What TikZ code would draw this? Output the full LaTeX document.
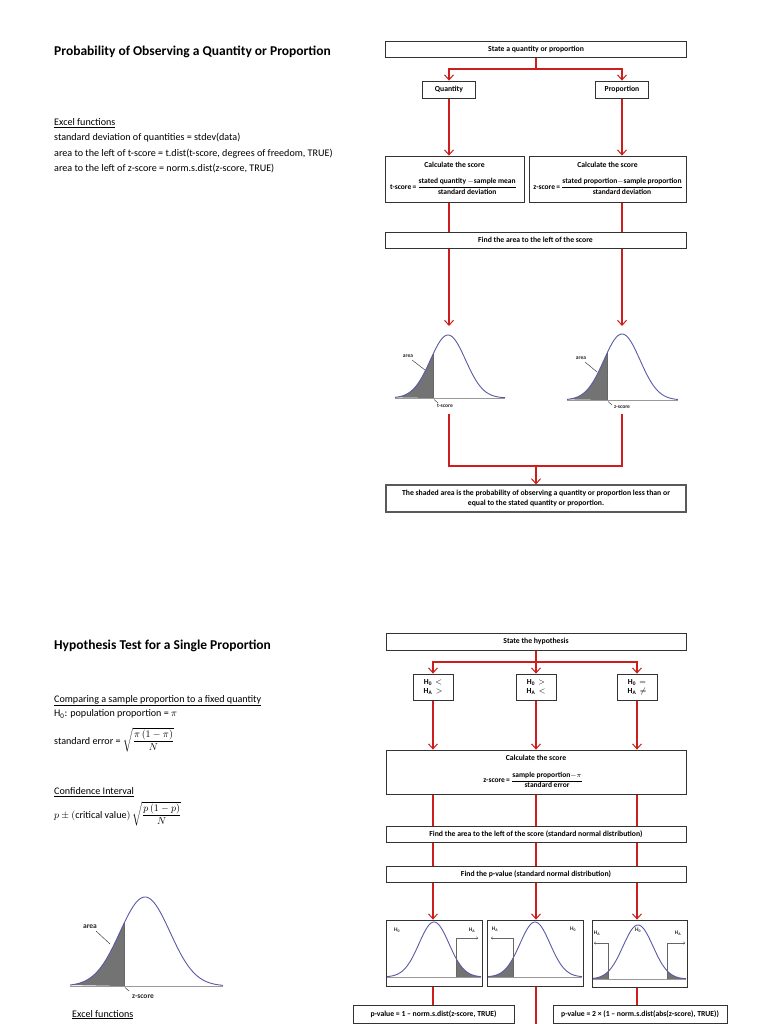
\documentclass[tikz,border=0pt]{standalone}
\usepackage{fontspec}
\usepackage{amsmath}
\setmainfont{Carlito}
\usetikzlibrary{arrows.meta,backgrounds,calc}
\definecolor{lred}{RGB}{205,30,30}
\definecolor{cblue}{RGB}{90,90,165}
\definecolor{shd}{RGB}{115,115,115}
\newcommand\bx{\fontsize{7.7}{9.4}\selectfont\bfseries}
\newcommand\fx{\fontsize{7.5}{9}\selectfont\bfseries}
\begin{document}
\begin{tikzpicture}[x=1pt,y=-1pt,
 box/.style={draw=black!80,line width=0.8pt,fill=white,inner sep=1pt,align=center,font=\bx},
 txt/.style={inner sep=0pt,align=center,font=\bx},
 frm/.style={inner sep=0pt,align=center,font=\fx},
 flow/.style={draw=lred,line width=1.1pt},
 arr/.style={flow,-{Straight Barb[length=5pt,width=9pt,line width=1pt]}},
 lt/.style={anchor=base west,inner sep=0pt,font=\fontsize{10.1}{12}\selectfont},
 ttl/.style={anchor=base west,inner sep=0pt,font=\fontsize{13.5}{15}\selectfont\bfseries},
 curve/.style={draw=cblue,line width=0.9pt},
 basel/.style={draw=black!40,line width=0.8pt},
 lbl/.style={inner sep=0pt,font=\fontsize{5.5}{6.5}\selectfont\bfseries,text=black!85},
 lead/.style={draw=black!80,line width=0.45pt},
 brk/.style={draw=black!60,line width=0.45pt,-{To[length=2pt,width=3pt]}}]
\useasboundingbox (0,0) rectangle (768,1024);

% ---------- left texts, top ----------
\node[ttl] (t1) at (54,56) {Probability of Observing a Quantity or Proportion};
\node[lt] (x1) at (54,126) {\underline{Excel functions}};
\node[lt] (x2) at (54,141) {standard deviation of quantities = stdev(data)};
\node[lt] (x3) at (54,156.5) {area to the left of t-score = t.dist(t-score, degrees of freedom, TRUE)};
\node[lt] (x4) at (54,171.5) {area to the left of z-score = norm.s.dist(z-score, TRUE)};

% ---------- top flowchart ----------
\node[box,minimum width=301,minimum height=16] (s1) at (536,49) {State a quantity or proportion};
\node[box,minimum width=53,minimum height=17] (q) at (449,89.5) {Quantity};
\node[box,minimum width=53,minimum height=17] (p) at (622,89.5) {Proportion};
\node[box,minimum width=139,minimum height=46] (c1) at (454.5,179) {};
\node[txt] (c1t) at (454.5,165) {Calculate the score};
\node[frm] (c1f) at (453.5,186.5) {t-score\,=\,$\dfrac{\text{\fx stated quantity $-$sample mean}}{\text{\fx standard deviation}}$};
\node[box,minimum width=157,minimum height=46] (c2) at (607.5,179) {};
\node[txt] (c2t) at (607.5,165) {Calculate the score};
\node[frm] (c2f) at (608,186.5) {z-score\,=\,$\dfrac{\text{\fx stated proportion$-$sample proportion}}{\text{\fx standard deviation}}$};
\node[box,minimum width=301,minimum height=16] (f1) at (535.5,240) {Find the area to the left of the score};
\node[box,minimum width=300,minimum height=27,draw=black!65,line width=1.1pt] (res) at (536,498.5) {The shaded area is the probability of observing a quantity or proportion less than or\\equal to the stated quantity or proportion.};

% top-left curve
\fill[shd] plot[domain=395:433,samples=40] (\x,{398-63*exp(-(\x-448)*(\x-448)/(2*17.5*17.5))}) -- (433,398) -- cycle;
\draw[draw=black!60,line width=0.7pt] (433,398) -- (433,{398-63*exp(-(433-448)*(433-448)/(2*17.5*17.5))});
\draw[basel] (395,398) -- (505,398);
\draw[curve] plot[domain=395:505,samples=90] (\x,{398-63*exp(-(\x-448)*(\x-448)/(2*17.5*17.5))});
\node[lbl] (la1) at (408,356) {area};
\draw[lead] (412,360) -- (425,370);
\node[lbl] (lt1) at (445,405.5) {t-score};
\draw[lead] (434,399.5) -- (438,403);

% top-right curve
\fill[shd] plot[domain=567:607,samples=40] (\x,{400-66*exp(-(\x-622)*(\x-622)/(2*18*18))}) -- (607,400) -- cycle;
\draw[draw=black!60,line width=0.7pt] (607,400) -- (607,{400-66*exp(-(607-622)*(607-622)/(2*18*18))});
\draw[basel] (567,400) -- (678,400);
\draw[curve] plot[domain=567:678,samples=90] (\x,{400-66*exp(-(\x-622)*(\x-622)/(2*18*18))});
\node[lbl] (la2) at (581,358) {area};
\draw[lead] (585,362) -- (597,372);
\node[lbl] (lz2) at (622,407.5) {z-score};
\draw[lead] (608,401.5) -- (612,405);

% ---------- left texts, bottom ----------
\node[ttl] (t2) at (54,649) {Hypothesis Test for a Single Proportion};
\node[lt] (y1) at (54,702.5) {\underline{Comparing a sample proportion to a fixed quantity}};
\node[lt] (y2) at (54,716.5) {H\textsubscript{0}: population proportion = $\pi$};
\node[lt] (y3) at (54,744) {standard error = $\sqrt{\dfrac{\pi\left(1-\pi\right)}{N}}$};
\node[lt] (y4) at (54,794.5) {\underline{Confidence Interval}};
\node[lt] (y5) at (54,818) {$p\pm\left(\text{critical value}\right)\sqrt{\dfrac{p\left(1-p\right)}{N}}$};
\node[lt] (y6) at (72,1017) {\underline{Excel functions}};

% big curve bottom-left
\fill[shd] plot[domain=70:124,samples=50] (\x,{986-89*exp(-(\x-145)*(\x-145)/(2*25*25))}) -- (124,986) -- cycle;
\draw[draw=black!60,line width=0.8pt] (124,986) -- (124,{986-89*exp(-(124-145)*(124-145)/(2*25*25))});
\draw[basel] (70,986) -- (223,986);
\draw[curve] plot[domain=70:223,samples=120] (\x,{986-89*exp(-(\x-145)*(\x-145)/(2*25*25))});
\node[lbl,font=\fontsize{7.5}{8.5}\selectfont\bfseries] (la3) at (90,927) {area};
\draw[lead] (96,931) -- (110,944);
\node[lbl,font=\fontsize{7.5}{8.5}\selectfont\bfseries] (lz3) at (143,997) {z-score};
\draw[lead] (125,987.5) -- (129,991);

% ---------- bottom flowchart ----------
\node[box,minimum width=300,minimum height=17] (h1) at (536,641.5) {State the hypothesis};
\node[box,minimum width=40,minimum height=26] (b1) at (433,687) {H\textsubscript{0}\ \ $<$\\H\textsubscript{A}\ \ $>$};
\node[box,minimum width=40,minimum height=26] (b2) at (536,687) {H\textsubscript{0}\ \ $>$\\H\textsubscript{A}\ \ $<$};
\node[box,minimum width=40,minimum height=26] (b3) at (637,687) {H\textsubscript{0}\ \ $=$\\H\textsubscript{A}\ \ $\neq$};
\node[box,minimum width=300,minimum height=44] (c3) at (536,772) {};
\node[txt] (c3t) at (536,758) {Calculate the score};
\node[frm] (c3f) at (533,780) {z-score\,=\,$\dfrac{\text{\fx sample proportion$-\pi$}}{\text{\fx standard error}}$};
\node[box,minimum width=300,minimum height=16] (fa) at (536,834) {Find the area to the left of the score (standard normal distribution)};
\node[box,minimum width=300,minimum height=16] (fp) at (536,874) {Find the p-value (standard normal distribution)};
\node[box,minimum width=96,minimum height=66] (cb1) at (434,953) {};
\node[box,minimum width=96,minimum height=66] (cb2) at (535,953) {};
\node[box,minimum width=95,minimum height=67] (cb3) at (639.5,953.5) {};
\node[box,minimum width=161,minimum height=18] (pv1) at (433.5,1014) {p-value = 1 – norm.s.dist(z-score, TRUE)};
\node[box,minimum width=174,minimum height=18] (pv3) at (640,1014) {p-value = 2 × (1 – norm.s.dist(abs(z-score), TRUE))};

% curve box 1 (right tail)
\fill[shd] plot[domain=456:481,samples=30] (\x,{977-55*exp(-(\x-434)*(\x-434)/(2*15*15))}) -- (481,977) -- (456,977) -- cycle;
\draw[basel] (387,977) -- (481,977);
\draw[curve] plot[domain=387:481,samples=90] (\x,{977-55*exp(-(\x-434)*(\x-434)/(2*15*15))});
\draw[brk] (456,977) -- (456,938) -- (478,938);
\node[lbl] (h01) at (397,930) {H\textsubscript{0}};
\node[lbl] (ha1) at (472,930) {H\textsubscript{A}};

% curve box 2 (left tail)
\fill[shd] plot[domain=488:513,samples=30] (\x,{977-55*exp(-(\x-535)*(\x-535)/(2*15*15))}) -- (513,977) -- (488,977) -- cycle;
\draw[basel] (488,977) -- (582,977);
\draw[curve] plot[domain=488:582,samples=90] (\x,{977-55*exp(-(\x-535)*(\x-535)/(2*15*15))});
\draw[brk] (513,977) -- (513,938) -- (491,938);
\node[lbl] (ha2) at (495,929) {H\textsubscript{A}};
\node[lbl] (h02) at (573,929) {H\textsubscript{0}};

% curve box 3 (two tails)
\fill[shd] plot[domain=593:608,samples=20] (\x,{979-54*exp(-(\x-638)*(\x-638)/(2*15*15))}) -- (608,979) -- (593,979) -- cycle;
\fill[shd] plot[domain=667:686,samples=20] (\x,{979-54*exp(-(\x-638)*(\x-638)/(2*15*15))}) -- (686,979) -- (667,979) -- cycle;
\draw[basel] (593,979) -- (686,979);
\draw[curve] plot[domain=593:686,samples=90] (\x,{979-54*exp(-(\x-638)*(\x-638)/(2*15*15))});
\draw[brk] (608,979) -- (608,943) -- (594,943);
\draw[brk] (667,979) -- (667,943) -- (685,943);
\node[lbl] (ha3) at (597,933) {H\textsubscript{A}};
\node[lbl] (h03) at (638,930) {H\textsubscript{0}};
\node[lbl] (ha4) at (678,933) {H\textsubscript{A}};

% ---------- connectors (behind boxes) ----------
\begin{scope}[on background layer]
\fill[white] (0,0) rectangle (768,1024);
\coordinate (j1) at (536,69);
\draw[flow] (s1.south) -- (j1);
\draw[arr] (j1) -| (q.north);
\draw[arr] (j1) -| (p.north);
\draw[arr] (q.south) -- (q.south |- c1.north);
\draw[arr] (p.south) -- (p.south |- c2.north);
\coordinate (ta) at (449,326);
\coordinate (tb) at (622,326);
\draw[arr] (q.south |- c1.south) -- (ta);
\draw[arr] (p.south |- c2.south) -- (tb);
\coordinate (ua) at (449,414);
\coordinate (ub) at (622,414);
\coordinate (j2) at (536,466);
\draw[flow] (ua) |- (j2) -| (ub);
\draw[arr] (j2) -- (res.north);

\coordinate (j3) at (536,662);
\draw[flow] (h1.south) -- (j3);
\draw[arr] (j3) -| (b1.north);
\draw[arr] (j3) -- (b2.north);
\draw[arr] (j3) -| (b3.north);
\draw[arr] (b1.south) -- (b1.south |- c3.north);
\draw[arr] (b2.south) -- (b2.south |- c3.north);
\draw[arr] (b3.south) -- (b3.south |- c3.north);
\draw[arr] (b1.south |- c3.south) -- (b1.south |- cb1.north);
\draw[arr] (b2.south |- c3.south) -- (b2.south |- cb2.north);
\draw[arr] (b3.south |- c3.south) -- (b3.south |- cb3.north);
\coordinate (e1) at (433,1024);
\coordinate (e2) at (536,1024);
\coordinate (e3) at (637,1024);
\draw[flow] (b1.south |- cb1.south) -- (e1);
\draw[flow] (b2.south |- cb2.south) -- (e2);
\draw[flow] (b3.south |- cb3.south) -- (e3);
\end{scope}
\end{tikzpicture}
\end{document}
